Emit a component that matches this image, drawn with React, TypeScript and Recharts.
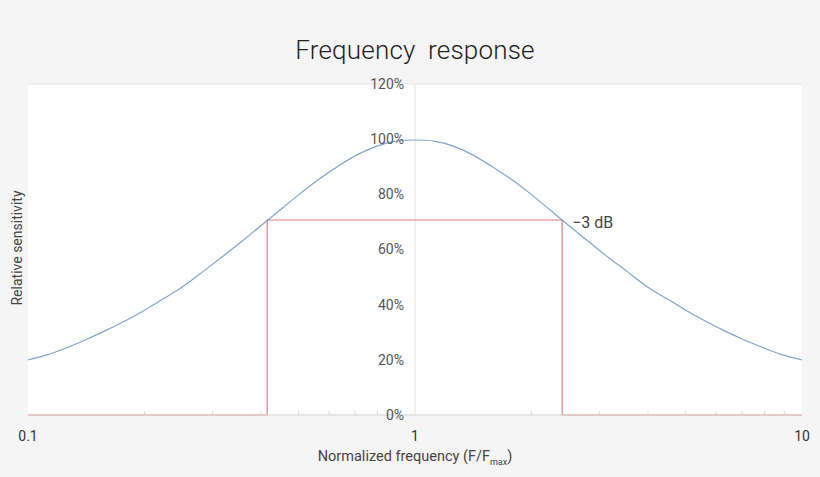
import React from 'react';
import {
  ComposedChart, Line, XAxis, YAxis, CartesianGrid, ReferenceLine, ReferenceDot,
} from 'recharts';

// Normalized frequency sample points (F/Fmax) and read relative sensitivity (%)
const freqs = [0.1, 0.112, 0.126, 0.141, 0.158, 0.178, 0.2, 0.224, 0.251, 0.282, 0.316, 0.355,
  0.398, 0.447, 0.501, 0.562, 0.631, 0.708, 0.794, 0.891, 1,
  1.12, 1.26, 1.41, 1.58, 1.78, 2, 2.24, 2.51, 2.82, 3.16, 3.55, 3.98, 4.47, 5.01, 5.62,
  6.31, 7.08, 7.94, 8.91, 10];
const sensitivity = [20, 21.8, 24.4, 27.3, 30.5, 34.1, 38, 42.2, 46.5, 51.8, 57.1, 62.7,
  68.4, 74.2, 79.9, 85.3, 90.1, 94.3, 97.4, 99.3, 99.7,
  99.3, 97.4, 94.3, 90.1, 85.3, 79.9, 74.2, 68.4, 62.7, 57.1, 51.8, 46.5, 42.2, 38, 34.1,
  30.5, 27.3, 24.4, 21.8, 20];

// -3 dB passband step
const bandFreqs = [0.1, 0.415, 0.415, 2.4, 2.4, 10];
const bandValues = [0, 0, 70.7, 70.7, 0, 0];

const xTicks = [0.1, 1, 10];
const yTicks = [0, 20, 40, 60, 80, 100, 120];
const minorTicks = [0.2, 0.3, 0.4, 0.5, 0.6, 0.7, 0.8, 0.9, 2, 3, 4, 5, 6, 7, 8, 9];
const minorTickHeight = 1.45;

const curveData = freqs.map((f, i) => ({ f, v: sensitivity[i] }));
const bandData = bandFreqs.map((f, i) => ({ f, v: bandValues[i] }));

const FONT = 'Roboto, "Noto Sans", sans-serif';

export default function App() {
  return (
    <div style={{ position: 'absolute', left: 0, top: 0, width: 820, height: 477, background: '#f5f5f5', fontFamily: FONT }}>
      <div style={{ position: 'absolute', left: 0, width: 830, top: 35, textAlign: 'center', fontSize: 26, fontWeight: 300, color: '#222', letterSpacing: 0.2, wordSpacing: 6 }}>
        Frequency response
      </div>
      <div style={{ position: 'absolute', left: 0, width: 830, top: 448, textAlign: 'center', fontSize: 14.5, color: '#444' }}>
        Normalized frequency (F/F<sub style={{ fontSize: 9 }}>max</sub>)
      </div>
      <div style={{ position: 'absolute', left: 17, top: 248, transform: 'translate(-50%, -50%) rotate(-90deg)', fontSize: 14, color: '#444', whiteSpace: 'nowrap' }}>
        Relative sensitivity
      </div>
      <ComposedChart width={820} height={477} margin={{ top: 84, right: 18, bottom: 32, left: 28 }} style={{ position: 'absolute', left: 0, top: 0 }}>
        <CartesianGrid vertical={false} stroke="#e4e4e4" fill="#ffffff" />
        <XAxis
          dataKey="f"
          type="number"
          scale="log"
          domain={[0.1, 10]}
          ticks={xTicks}
          allowDataOverflow
          axisLine={{ stroke: '#dddddd' }}
          tickLine={false}
          tickMargin={10}
          tick={{ fill: '#333', fontSize: 14, fontFamily: FONT }}
          height={30}
        />
        <YAxis
          type="number"
          domain={[0, 120]}
          ticks={yTicks}
          width={0}
          axisLine={false}
          tickLine={false}
          tick={false}
        />
        <ReferenceLine x={1} stroke="#e4e4e4" />
        {minorTicks.map((t) => (
          <ReferenceLine key={t} segment={[{ x: t, y: 0 }, { x: t, y: minorTickHeight }]} stroke="#d8d8d8" />
        ))}
        <Line data={bandData} dataKey="v" type="linear" stroke="#d98080" strokeWidth={1.2} dot={false} isAnimationActive={false} />
        <Line data={curveData} dataKey="v" type="natural" stroke="#7fa3d0" strokeWidth={1.2} dot={false} isAnimationActive={false} />
        {yTicks.map((t) => (
          <ReferenceDot key={`yl${t}`} x={1} y={t} r={0} fill="none" stroke="none"
            label={{ value: `${t}%`, position: 'left', offset: 11, fill: '#555', fontSize: 14, fontFamily: FONT }} />
        ))}
        <ReferenceDot x={2.4} y={70.7} r={0} fill="none" stroke="none"
          label={{ value: '−3 dB', position: 'right', offset: 10, dy: 2, fill: '#444', fontSize: 16, fontFamily: FONT }} />
      </ComposedChart>
    </div>
  );
}
